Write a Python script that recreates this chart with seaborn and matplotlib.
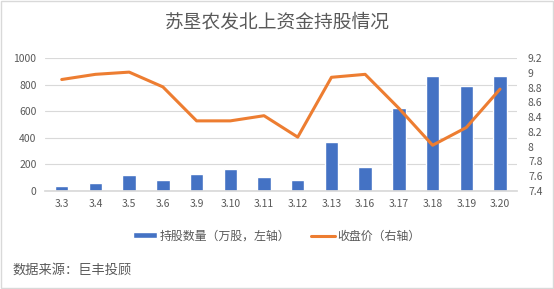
import pandas as pd
import numpy as np
import matplotlib.pyplot as plt
import seaborn as sns
from matplotlib.patches import Rectangle
from matplotlib.lines import Line2D
from matplotlib.patches import Patch

sns.set_theme(style="white")
plt.rcParams['font.family'] = ['Noto Sans CJK SC', 'DejaVu Sans']

dates = ['3.3', '3.4', '3.5', '3.6', '3.9', '3.10', '3.11', '3.12',
         '3.13', '3.16', '3.17', '3.18', '3.19', '3.20']
holdings = [38, 61, 121, 83, 129, 167, 108, 83, 371, 177, 621, 864, 788, 864]
close_price = [8.91, 8.98, 9.01, 8.81, 8.35, 8.35, 8.42, 8.13,
               8.94, 8.98, 8.52, 8.02, 8.26, 8.78]

df = pd.DataFrame({'date': dates, 'hold': holdings, 'price': close_price})
df['pos'] = np.arange(len(df))

bar_c = '#4472C4'
line_c = '#ED7D31'
txt_c = '#595959'
grid_c = '#D9D9D9'

fig = plt.figure(figsize=(5.54, 2.89), dpi=100)
ax1 = fig.add_axes([0.081, 0.339, 0.852, 0.46])
sns.barplot(data=df, x='date', y='hold', color=bar_c, width=0.4,
            saturation=1, ax=ax1)
ax1.set_ylim(0, 1000)
ax1.set_yticks(range(0, 1001, 200))
ax1.set_xlim(-0.5, len(df) - 0.5)
ax1.yaxis.grid(True, color=grid_c, lw=0.8)
ax1.set_axisbelow(True)
for s in ['top', 'right', 'left']:
    ax1.spines[s].set_visible(False)
ax1.spines['bottom'].set_color(grid_c)
ax1.set_xlabel('')
ax1.set_ylabel('')
ax1.tick_params(axis='both', colors=txt_c, labelsize=7.5, length=0, pad=6)

ax2 = ax1.twinx()
sns.lineplot(data=df, x='pos', y='price', color=line_c, lw=2.2, sort=False, ax=ax2)
ax2.set_ylim(7.4, 9.2)
ax2.set_yticks(np.round(np.arange(7.4, 9.21, 0.2), 1))
ax2.yaxis.set_major_formatter(plt.FuncFormatter(lambda v, p: '{:g}'.format(round(v, 1))))
ax2.set_xlim(-0.5, len(df) - 0.5)
for s in ['top', 'right', 'left', 'bottom']:
    ax2.spines[s].set_visible(False)
ax2.set_xlabel('')
ax2.set_ylabel('')
ax2.tick_params(axis='y', colors=txt_c, labelsize=7.5, length=0, pad=8)

fig.text(0.5, 0.924, '苏垦农发北上资金持股情况', ha='center', va='center',
         fontsize=13.5, color=txt_c)

handles = [Patch(facecolor=bar_c), Line2D([0], [0], color=line_c, lw=2.2)]
fig.legend(handles, ['持股数量（万股，左轴）', '收盘价（右轴）'],
           loc='center', bbox_to_anchor=(0.5, 0.183), ncol=2, frameon=False,
           fontsize=8.6, labelcolor=txt_c, handlelength=2.0, handleheight=0.4,
           columnspacing=1.7, handletextpad=0.25)

fig.text(0.022, 0.065, '数据来源：巨丰投顾', ha='left', va='center',
         fontsize=9.5, color=txt_c)

fig.patches.append(Rectangle((0.002, 0.003), 0.996, 0.994, transform=fig.transFigure,
                             fill=False, edgecolor='#D9D9D9', lw=1))

fig.savefig('out.png', dpi=100)
